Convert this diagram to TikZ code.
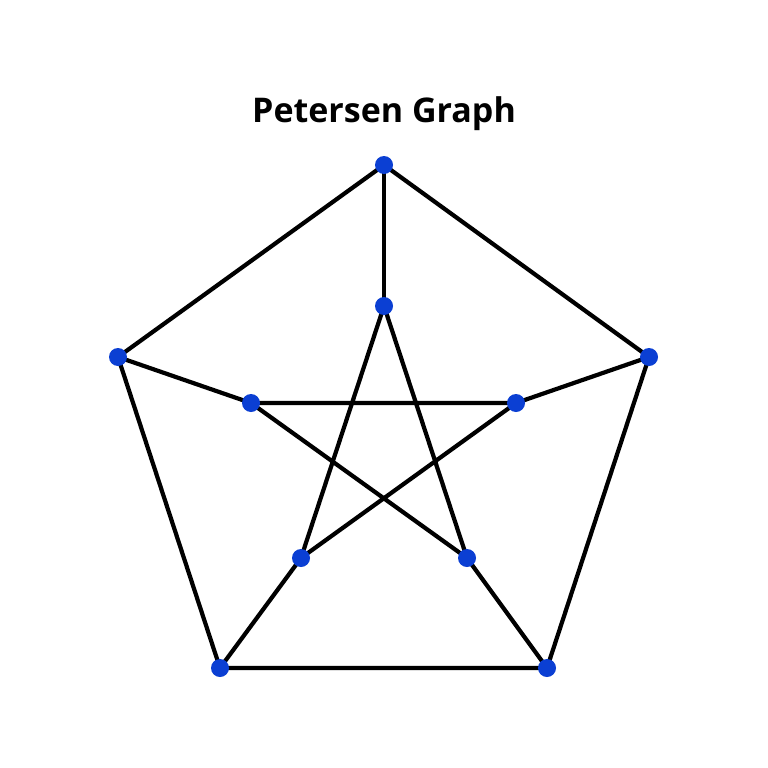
\documentclass[tikz,border=0pt]{standalone}
\usepackage{fontspec}
\setmainfont{Open Sans}
\definecolor{dotblue}{HTML}{0B3FD3}
\begin{document}
\begin{tikzpicture}[x=1pt,y=-1pt,
  edge/.style={line width=4.2pt,black},
  vtx/.style={circle,fill=dotblue,inner sep=0pt,minimum size=18pt}]
\useasboundingbox[fill=white] (0,0) rectangle (768,768);
\node[font=\bfseries\fontsize{34}{40}\selectfont,anchor=base] (title) at (384,122) {Petersen Graph};
\coordinate (o1) at (384,165);
\coordinate (o2) at (649,357);
\coordinate (o3) at (547,668);
\coordinate (o4) at (220,668);
\coordinate (o5) at (118,357);
\coordinate (i1) at (384,306);
\coordinate (i2) at (516,403);
\coordinate (i3) at (467,558);
\coordinate (i4) at (301,558);
\coordinate (i5) at (251,403);
\draw[edge] (o1)--(o2)--(o3)--(o4)--(o5)--cycle;
\foreach \k in {1,...,5} \draw[edge] (o\k)--(i\k);
\draw[edge] (i1)--(i3)--(i5)--(i2)--(i4)--cycle;
\foreach \k in {1,...,5} {\node[vtx] (no\k) at (o\k) {}; \node[vtx] (ni\k) at (i\k) {};}
\end{tikzpicture}
\end{document}
